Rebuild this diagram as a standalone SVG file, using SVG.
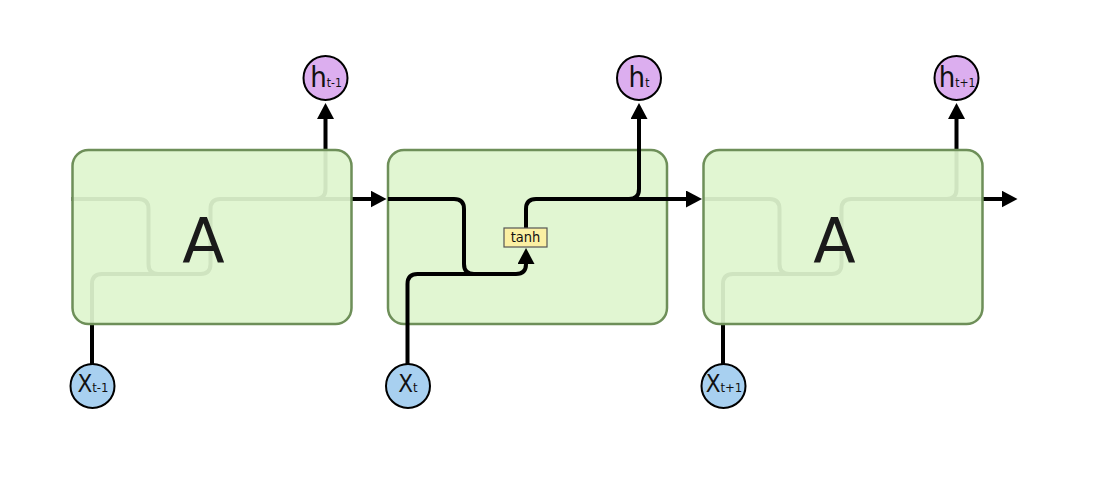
<svg xmlns="http://www.w3.org/2000/svg" width="1120" height="486" viewBox="0 0 1120 486">
  <defs>
    <style>
      .cell { fill: #dff5cf; fill-opacity: 0.93; stroke: #6e8f59; stroke-width: 2.5; }
      .wire { fill: none; stroke: #000; stroke-width: 4; }
      .h { fill: #dcaeef; stroke: #000; stroke-width: 2; }
      .x { fill: #a8d0f0; stroke: #000; stroke-width: 2; }
      .big { font-family: "DejaVu Sans", sans-serif; fill: #1a1a1a; }
      .lbl { font-family: "DejaVu Sans Condensed", "DejaVu Sans", sans-serif; fill: #111; }
      .op { fill: #fbf0a3; stroke: #555; stroke-width: 1.2; }
    </style>
    <marker id="arrow" viewBox="0 0 16 17" refX="10" refY="8.5" markerWidth="16" markerHeight="17" markerUnits="userSpaceOnUse" orient="auto">
      <path d="M0,0 L16,8.5 L0,17 z" fill="#000"/>
    </marker>
  </defs>

  <rect width="1120" height="486" fill="#fff"/>

  <!-- middle cell box (nothing underneath) -->
  <g id="cell-t">
    <rect class="cell" x="388" y="150" width="279" height="174" rx="16"/>
  </g>

  <!-- wiring of the outer cells, seen through their boxes -->
  <g id="connectors-behind">
    <g transform="translate(72.5,0)">
      <path class="wire" d="M -1,199 H 66 Q76,199 76,209 V 264 Q76,274 86,274 H 128 Q138,274 138,264 V 209 Q138,199 148,199 H 308" marker-end="url(#arrow)"/>
      <path class="wire" d="M 19.5,364 V 284 Q19.5,274 29.5,274 H 86"/>
      <path class="wire" d="M 243,199 Q253,199 253,189 V 109" marker-end="url(#arrow)"/>
    </g>
    <g transform="translate(703.5,0)">
      <path class="wire" d="M 0,199 H 66 Q76,199 76,209 V 264 Q76,274 86,274 H 128 Q138,274 138,264 V 209 Q138,199 148,199 H 308" marker-end="url(#arrow)"/>
      <path class="wire" d="M 19.5,364 V 284 Q19.5,274 29.5,274 H 86"/>
      <path class="wire" d="M 243,199 Q253,199 253,189 V 109" marker-end="url(#arrow)"/>
    </g>
  </g>

  <!-- outer cells drawn as blocks labelled A -->
  <g id="cell-t-1">
    <rect class="cell" x="72.5" y="150" width="279" height="174" rx="16"/>
    <text class="big" x="203.5" y="263" font-size="62" text-anchor="middle">A</text>
  </g>
  <g id="cell-t+1">
    <rect class="cell" x="703.5" y="150" width="279" height="174" rx="16"/>
    <text class="big" x="834.5" y="263" font-size="62" text-anchor="middle">A</text>
  </g>

  <!-- wiring of the middle cell -->
  <g id="connectors" transform="translate(388,0)">
    <path class="wire" d="M 0,199 H 66 Q76,199 76,209 V 264 Q76,274 86,274 H 128 Q138,274 138,264 V 254" marker-end="url(#arrow)"/>
    <path class="wire" d="M 19.5,364 V 284 Q19.5,274 29.5,274 H 86"/>
    <path class="wire" d="M 138,228 V 209 Q138,199 148,199 H 308" marker-end="url(#arrow)"/>
    <path class="wire" d="M 241,199 Q251,199 251,189 V 109" marker-end="url(#arrow)"/>
  </g>

  <g id="tanh">
    <rect class="op" x="504" y="228" width="43" height="19"/>
    <text class="lbl" x="525.5" y="242" font-size="14.5" text-anchor="middle">tanh</text>
  </g>

  <!-- hidden-state outputs -->
  <g id="h-t-1">
    <circle class="h" cx="325.5" cy="78" r="22"/>
    <text class="lbl" x="326" y="87" text-anchor="middle"><tspan font-size="29">h</tspan><tspan font-size="12">t-1</tspan></text>
  </g>
  <g id="h-t">
    <circle class="h" cx="639" cy="78" r="22"/>
    <text class="lbl" x="639" y="87" text-anchor="middle"><tspan font-size="29">h</tspan><tspan font-size="12">t</tspan></text>
  </g>
  <g id="h-t+1">
    <circle class="h" cx="956.5" cy="78" r="22"/>
    <text class="lbl" x="957" y="87" text-anchor="middle"><tspan font-size="29">h</tspan><tspan font-size="12">t+1</tspan></text>
  </g>

  <!-- inputs -->
  <g id="x-t-1">
    <circle class="x" cx="92.5" cy="386" r="22"/>
    <text class="lbl" x="93" y="392" text-anchor="middle"><tspan font-size="24">X</tspan><tspan font-size="13">t-1</tspan></text>
  </g>
  <g id="x-t">
    <circle class="x" cx="408" cy="386" r="22"/>
    <text class="lbl" x="408" y="392" text-anchor="middle"><tspan font-size="24">X</tspan><tspan font-size="13">t</tspan></text>
  </g>
  <g id="x-t+1">
    <circle class="x" cx="723.5" cy="386" r="22"/>
    <text class="lbl" x="724" y="392" text-anchor="middle"><tspan font-size="24">X</tspan><tspan font-size="13">t+1</tspan></text>
  </g>
</svg>
